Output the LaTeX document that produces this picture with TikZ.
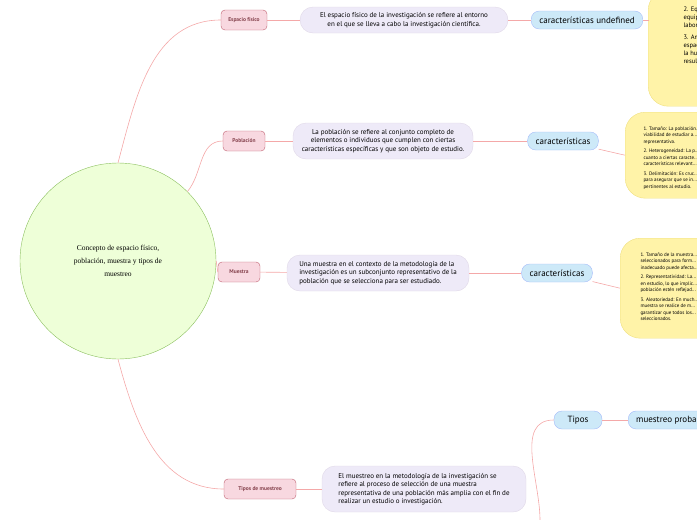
\documentclass[tikz,border=0pt]{standalone}
\usepackage{fontspec}
\setmainfont{PT Sans}
\newfontfamily\serifcirc{Liberation Serif}
\definecolor{cgreen}{HTML}{EEFFD8}
\definecolor{cgreenb}{HTML}{8CC060}
\definecolor{cpink}{HTML}{F8D8E0}
\definecolor{cpinkb}{HTML}{C06070}
\definecolor{clav}{HTML}{EEEAF8}
\definecolor{clavb}{HTML}{E0D8E8}
\definecolor{cblue}{HTML}{CDE9F8}
\definecolor{cyel}{HTML}{FFF3A8}
\definecolor{cyelb}{HTML}{F0E080}
\definecolor{cline}{HTML}{F4A8A8}
\begin{document}
\begin{tikzpicture}[x=1pt,y=-1pt,
 topic/.style={draw=cpinkb,fill=cpink,rounded corners=4pt,font=\fontsize{5.5}{6}\selectfont\bfseries,text=cpinkb!70!black,minimum height=20pt,inner sep=3pt},
 desc/.style={draw=clavb,fill=clav,rounded corners=13pt,font=\fontsize{7}{8.5}\selectfont,align=center,inner sep=4pt},
 car/.style={draw=cblue!80!blue,fill=cblue,rounded corners=8pt,font=\fontsize{9}{10}\selectfont,minimum height=18pt,inner xsep=8pt},
 yel/.style={draw=cyelb,fill=cyel,rounded corners=20pt},
 ytxt/.style={font=\fontsize{5}{6.5}\selectfont,align=left,anchor=north west},
 con/.style={draw=cline,line width=0.6pt}]
\useasboundingbox (0,0) rectangle (697,520);
\begin{scope}
\clip (0,0) rectangle (697,520);
\node[circle,draw=cgreenb,fill=cgreen,minimum size=196pt,align=center,font=\fontsize{7.5}{13}\selectfont\serifcirc] (c) at (118,261) {Concepto de espacio físico,\\población, muestra y tipos de\\muestreo};
\node[topic,minimum width=46pt] (t1) at (244,20) {Espacio físico};
\node[topic,minimum width=42pt] (t2) at (244,141) {Población};
\node[topic,minimum width=42pt] (t3) at (239,272) {Muestra};
\node[topic,minimum width=72pt] (t4) at (260,489) {Tipos de muestreo};
\node[desc,minimum width=208pt,minimum height=26pt] (d1) at (404,20) {El espacio físico de la investigación se refiere al entorno\\en el que se lleva a cabo la investigación científica.};
\node[desc,minimum width=180pt,minimum height=36pt] (d2) at (383,141) {La población se refiere al conjunto completo de\\elementos o individuos que cumplen con ciertas\\características específicas y que son objeto de estudio.};
\node[desc,minimum width=182pt,minimum height=36pt,align=left] (d3) at (378,273) {Una muestra en el contexto de la metodología de la\\investigación es un subconjunto representativo de la\\población que se selecciona para ser estudiado.};
\node[desc,minimum width=204pt,minimum height=46pt,align=left] (d4) at (424,489) {El muestreo en la metodología de la investigación se\\refiere al proceso de selección de una muestra\\representativa de una población más amplia con el fin de\\realizar un estudio o investigación.};
\node[car] (k1) at (587,20) {características undefined};
\node[car] (k2) at (563,141) {características};
\node[car] (k3) at (557,273) {características};
\node[car,minimum width=48pt] (k4) at (578,420) {Tipos};
\node[car,anchor=west,minimum width=90pt] (k5) at (628,420) {muestreo probabilístico};
\coordinate (b) at (540,520);
\coordinate (e1) at (649,20);
\draw[con] (c.north) to[out=75,in=180] (t1.west);
\draw[con] (c.north east) to[out=50,in=180] (t2.west);
\draw[con] (c.east) -- (t3.west);
\draw[con] (c.south) to[out=-75,in=180] (t4.west);
\draw[con] (t1)--(d1); \draw[con] (d1)--(k1);
\draw[con] (t2)--(d2); \draw[con] (d2)--(k2);
\draw[con] (t3)--(d3); \draw[con] (d3)--(k3);
\draw[con] (t4)--(d4);
\draw[con] (b) to[out=90,in=180] (k4.west);
\draw[con] (k4)--(k5);
\node[yel,minimum width=90pt,minimum height=116pt,anchor=north west] (y1) at (648,-10) {};
\node[yel,minimum width=100pt,minimum height=86pt,anchor=north west] (y2) at (625,112) {};
\node[yel,minimum width=100pt,minimum height=100pt,anchor=north west] (y3) at (620,238) {};
\draw[con] (k1)--(e1);
\draw[con] (k2)--(y2.west);
\draw[con] (k3)--(y3.west);
\node[ytxt,font=\fontsize{6.5}{8}\selectfont] (x1) at (680,3) {2. Equipos y\\equipamiento de\\laboratorio.\\[4pt]3. Ambiente:\\espacio físico\\la humedad\\resultados.};
\node[ytxt] (x2) at (640,123) {1. Tamaño: La población...\\viabilidad de estudiar a...\\representativa.\\[3pt]2. Heterogeneidad: La p...\\cuanto a ciertas caracte...\\características relevant...\\[3pt]3. Delimitación: Es cruc...\\para asegurar que se in...\\pertinentes al estudio.};
\node[ytxt] (x3) at (637,249) {1. Tamaño de la muestra...\\seleccionados para form...\\inadecuado puede afecta...\\[3pt]2. Representatividad: La...\\en estudio, lo que implic...\\población estén reflejad...\\[3pt]3. Aleatoriedad: En much...\\muestra se realice de m...\\garantizar que todos los...\\seleccionados.};
\end{scope}
\end{tikzpicture}
\end{document}
